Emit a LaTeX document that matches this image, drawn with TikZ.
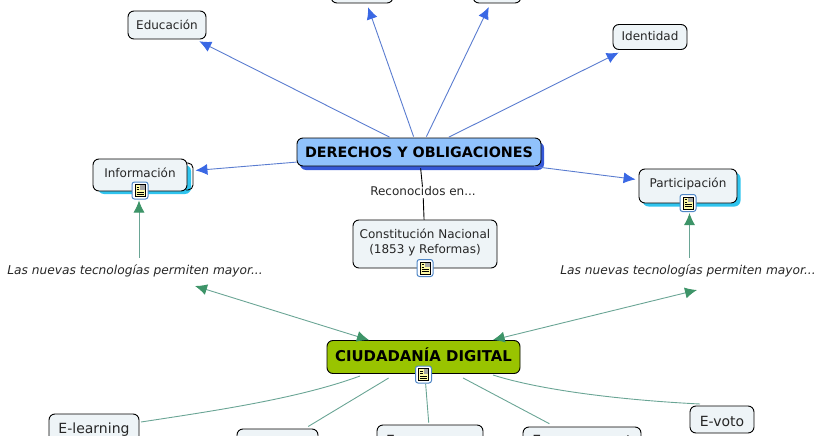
\documentclass[tikz,border=0pt]{standalone}
\usepackage{fontspec}
\setmainfont{DejaVu Sans}
\usetikzlibrary{arrows.meta,shadows}
\definecolor{boxfill}{HTML}{EEF4F7}
\definecolor{linkblue}{HTML}{5A7CD0}
\definecolor{tipblue}{HTML}{3A68E4}
\definecolor{linkgreen}{HTML}{6AA595}
\definecolor{tipgreen}{HTML}{3D9468}
\definecolor{shadeblue}{HTML}{3558D8}
\definecolor{shadecyan}{HTML}{2FC4EE}
\definecolor{topblue}{HTML}{90C2FC}
\definecolor{topgreen}{HTML}{99C400}
\definecolor{iconedge}{HTML}{4F86C6}
\tikzset{
  concept/.style={draw=black,line width=.9pt,fill=boxfill,rounded corners=6pt,font=\fontsize{12pt}{14pt}\selectfont,
    text=black!85,inner sep=0pt,text height=9pt,text depth=2.5pt},
  bigconcept/.style={concept,font=\fontsize{14pt}{16pt}\selectfont,text height=10.5pt,text depth=3pt},
  headline/.style={draw=black,line width=.9pt,rounded corners=6pt,inner sep=0pt,text=black,
    font=\fontsize{14.3pt}{16pt}\selectfont\bfseries,text height=10.5pt,text depth=1pt},
  caption/.style={font=\fontsize{12pt}{14pt}\selectfont,text=black!85,inner sep=0pt,text height=9pt,text depth=3pt},
  slanted/.style={caption,font=\fontsize{12.2pt}{14pt}\selectfont\itshape},
  bluelink/.style={draw=linkblue,line width=.9pt,-{Latex[length=12pt,width=11pt,color=tipblue]}},
  greenlink/.style={draw=linkgreen,line width=.9pt},
  greentip/.style={-{Latex[length=12pt,width=11pt,color=tipgreen]}},
  greentips/.style={{Latex[length=12pt,width=11pt,color=tipgreen]}-{Latex[length=12pt,width=11pt,color=tipgreen]}},
  blacklink/.style={draw=black,line width=.9pt},
  iconbox/.style={draw=iconedge,line width=1pt,fill=white,rounded corners=2.5pt,minimum width=16pt,minimum height=17pt,inner sep=0pt}
}
\newcommand{\noteicon}[2]{%
  \node[iconbox] (#1) at (#2) {};
  \begin{scope}[shift={(#1.center)}]
    \fill[yellow!35] (-5,-6) rectangle (5,6);
    \draw[black,line width=.6pt] (-5,-6) rectangle (5,6);
    \fill[gray!70] (0,-5.5) rectangle (4.5,-1);
    \draw[black,line width=.7pt] (-3.5,-3.5) -- (-1,-3.5) (-3.5,-1) -- (-1,-1) (-3.5,1.5) -- (3.5,1.5) (-3.5,3.8) -- (3.5,3.8);
  \end{scope}}
\begin{document}
\begin{tikzpicture}[x=1pt,y=-1pt]
\useasboundingbox (0,0) rectangle (830,436);
\clip (0,0) rectangle (830,436);
% top nodes
\node[concept,text height=12pt,minimum width=78pt,minimum height=28pt] (edu) at (167,25) {Educación};
\node[concept,minimum width=62pt,minimum height=26pt] (topa) at (362,-10) {};
\node[concept,minimum width=48pt,minimum height=26pt] (topb) at (497,-10) {};
\node[concept,minimum width=74pt,minimum height=25pt] (ide) at (650,37) {Identidad};
% central node
\node[headline,text height=12.5pt,fill=topblue,minimum width=244pt,minimum height=28pt,
  general shadow={fill=shadeblue,shadow xshift=3pt,shadow yshift=-4pt}] (der) at (419,152) {DERECHOS Y OBLIGACIONES};
% información with stacked copies behind
\fill[shadecyan,rounded corners=6pt] (98,165) rectangle (191,194);
\draw[black,line width=.9pt,rounded corners=5pt] (184,163) -- (193,163) -- (193,190) -- (186,190);
\node[concept,text depth=4.5pt,minimum width=94pt,minimum height=32pt] (inf) at (140,175) {Información};
\noteicon{icoinf}{140,190.5}
% participación
\node[concept,text depth=6.5pt,minimum width=98pt,minimum height=34pt,
  general shadow={fill=shadecyan,shadow xshift=3.5pt,shadow yshift=-3.5pt}] (par) at (688,186) {Participación};
\noteicon{icopar}{688,203}
% constitución
\node[caption] (rec) at (423,192) {Reconocidos en...};
\node[draw=black,line width=.9pt,fill=boxfill,rounded corners=6pt,inner sep=0pt,align=center,text=black!85,
  font=\fontsize{12pt}{15pt}\selectfont,minimum width=144pt,minimum height=48pt] (con) at (425,244) {Constitución Nacional\\(1853 y Reformas)\rule[-5pt]{0pt}{5pt}};
\noteicon{icocon}{425,268}
% italic labels
\node[slanted] (laba) at (135,271) {Las nuevas tecnologías permiten mayor...};
\node[slanted] (labb) at (688,271) {Las nuevas tecnologías permiten mayor...};
% ciudadanía
\node[headline,font=\fontsize{14.9pt}{16pt}\selectfont\bfseries,fill=topgreen,minimum width=193pt,minimum height=33pt] (cd) at (423.5,357) {CIUDADANÍA DIGITAL};
\noteicon{icocd}{423.5,374.5}
% bottom nodes
\node[bigconcept,text depth=7pt,minimum width=90pt,minimum height=36pt] (ele) at (94,432) {E-learning};
\node[bigconcept,minimum width=81pt,minimum height=32pt] (emb) at (277.5,445) {};
\node[bigconcept,text height=16.5pt,minimum width=106pt,minimum height=28pt] (eco) at (430,439) {E-commerce};
\node[bigconcept,text height=12.5pt,minimum width=118pt,minimum height=28pt] (ego) at (582,441) {E-government};
\node[bigconcept,text height=16.5pt,minimum width=64pt,minimum height=27pt] (evo) at (722,419.5) {E-voto};
% free ends
\coordinate (enda) at (195,286);
\coordinate (endb) at (697,290);
\coordinate (elefree) at (141,422);
\coordinate (cdleft) at (360,376);
\coordinate (evofree) at (700,404);
\coordinate (cdright) at (493,375);
% blue connectors
\draw[bluelink,shorten <=1pt,shorten >=4pt] (der) -- (edu);
\draw[bluelink,shorten <=1pt,shorten >=4pt] (der) -- (topa);
\draw[bluelink,shorten <=1pt,shorten >=4pt] (der) -- (topb);
\draw[bluelink,shorten <=1pt,shorten >=6pt] (der) -- (ide);
\draw[bluelink,shorten >=8pt] (der) -- (inf);
\draw[bluelink,shorten <=1pt,shorten >=3pt] (der) -- (par);
% black connectors
\draw[blacklink,shorten <=2pt] (der) -- (rec);
\draw[blacklink] (rec) -- (con);
% green connectors
\draw[greenlink,greentip,shorten <=7pt,shorten >=1pt] ([xshift=-1pt]laba.north -| icoinf) -- ([xshift=-1pt]icoinf.south);
\draw[greenlink,greentip,shorten <=7pt,shorten >=1pt] ([xshift=1.5pt]labb.north -| icopar) -- ([xshift=1.5pt]icopar.south);
\draw[greenlink,greentips] (enda) -- (cd);
\draw[greenlink,greentips] (endb) -- (cd);
\draw[greenlink] (cdleft) .. controls (300,398) and (220,410) .. (elefree);
\draw[greenlink,shorten <=8pt,shorten >=4pt] (cd) -- (emb);
\draw[greenlink,shorten <=10pt,shorten >=2pt] (cd) -- (eco);
\draw[greenlink,shorten <=8.5pt,shorten >=6pt] (cd) -- (ego);
\draw[greenlink] (cdright) .. controls (540,390) and (620,400) .. (evofree);
\end{tikzpicture}
\end{document}
